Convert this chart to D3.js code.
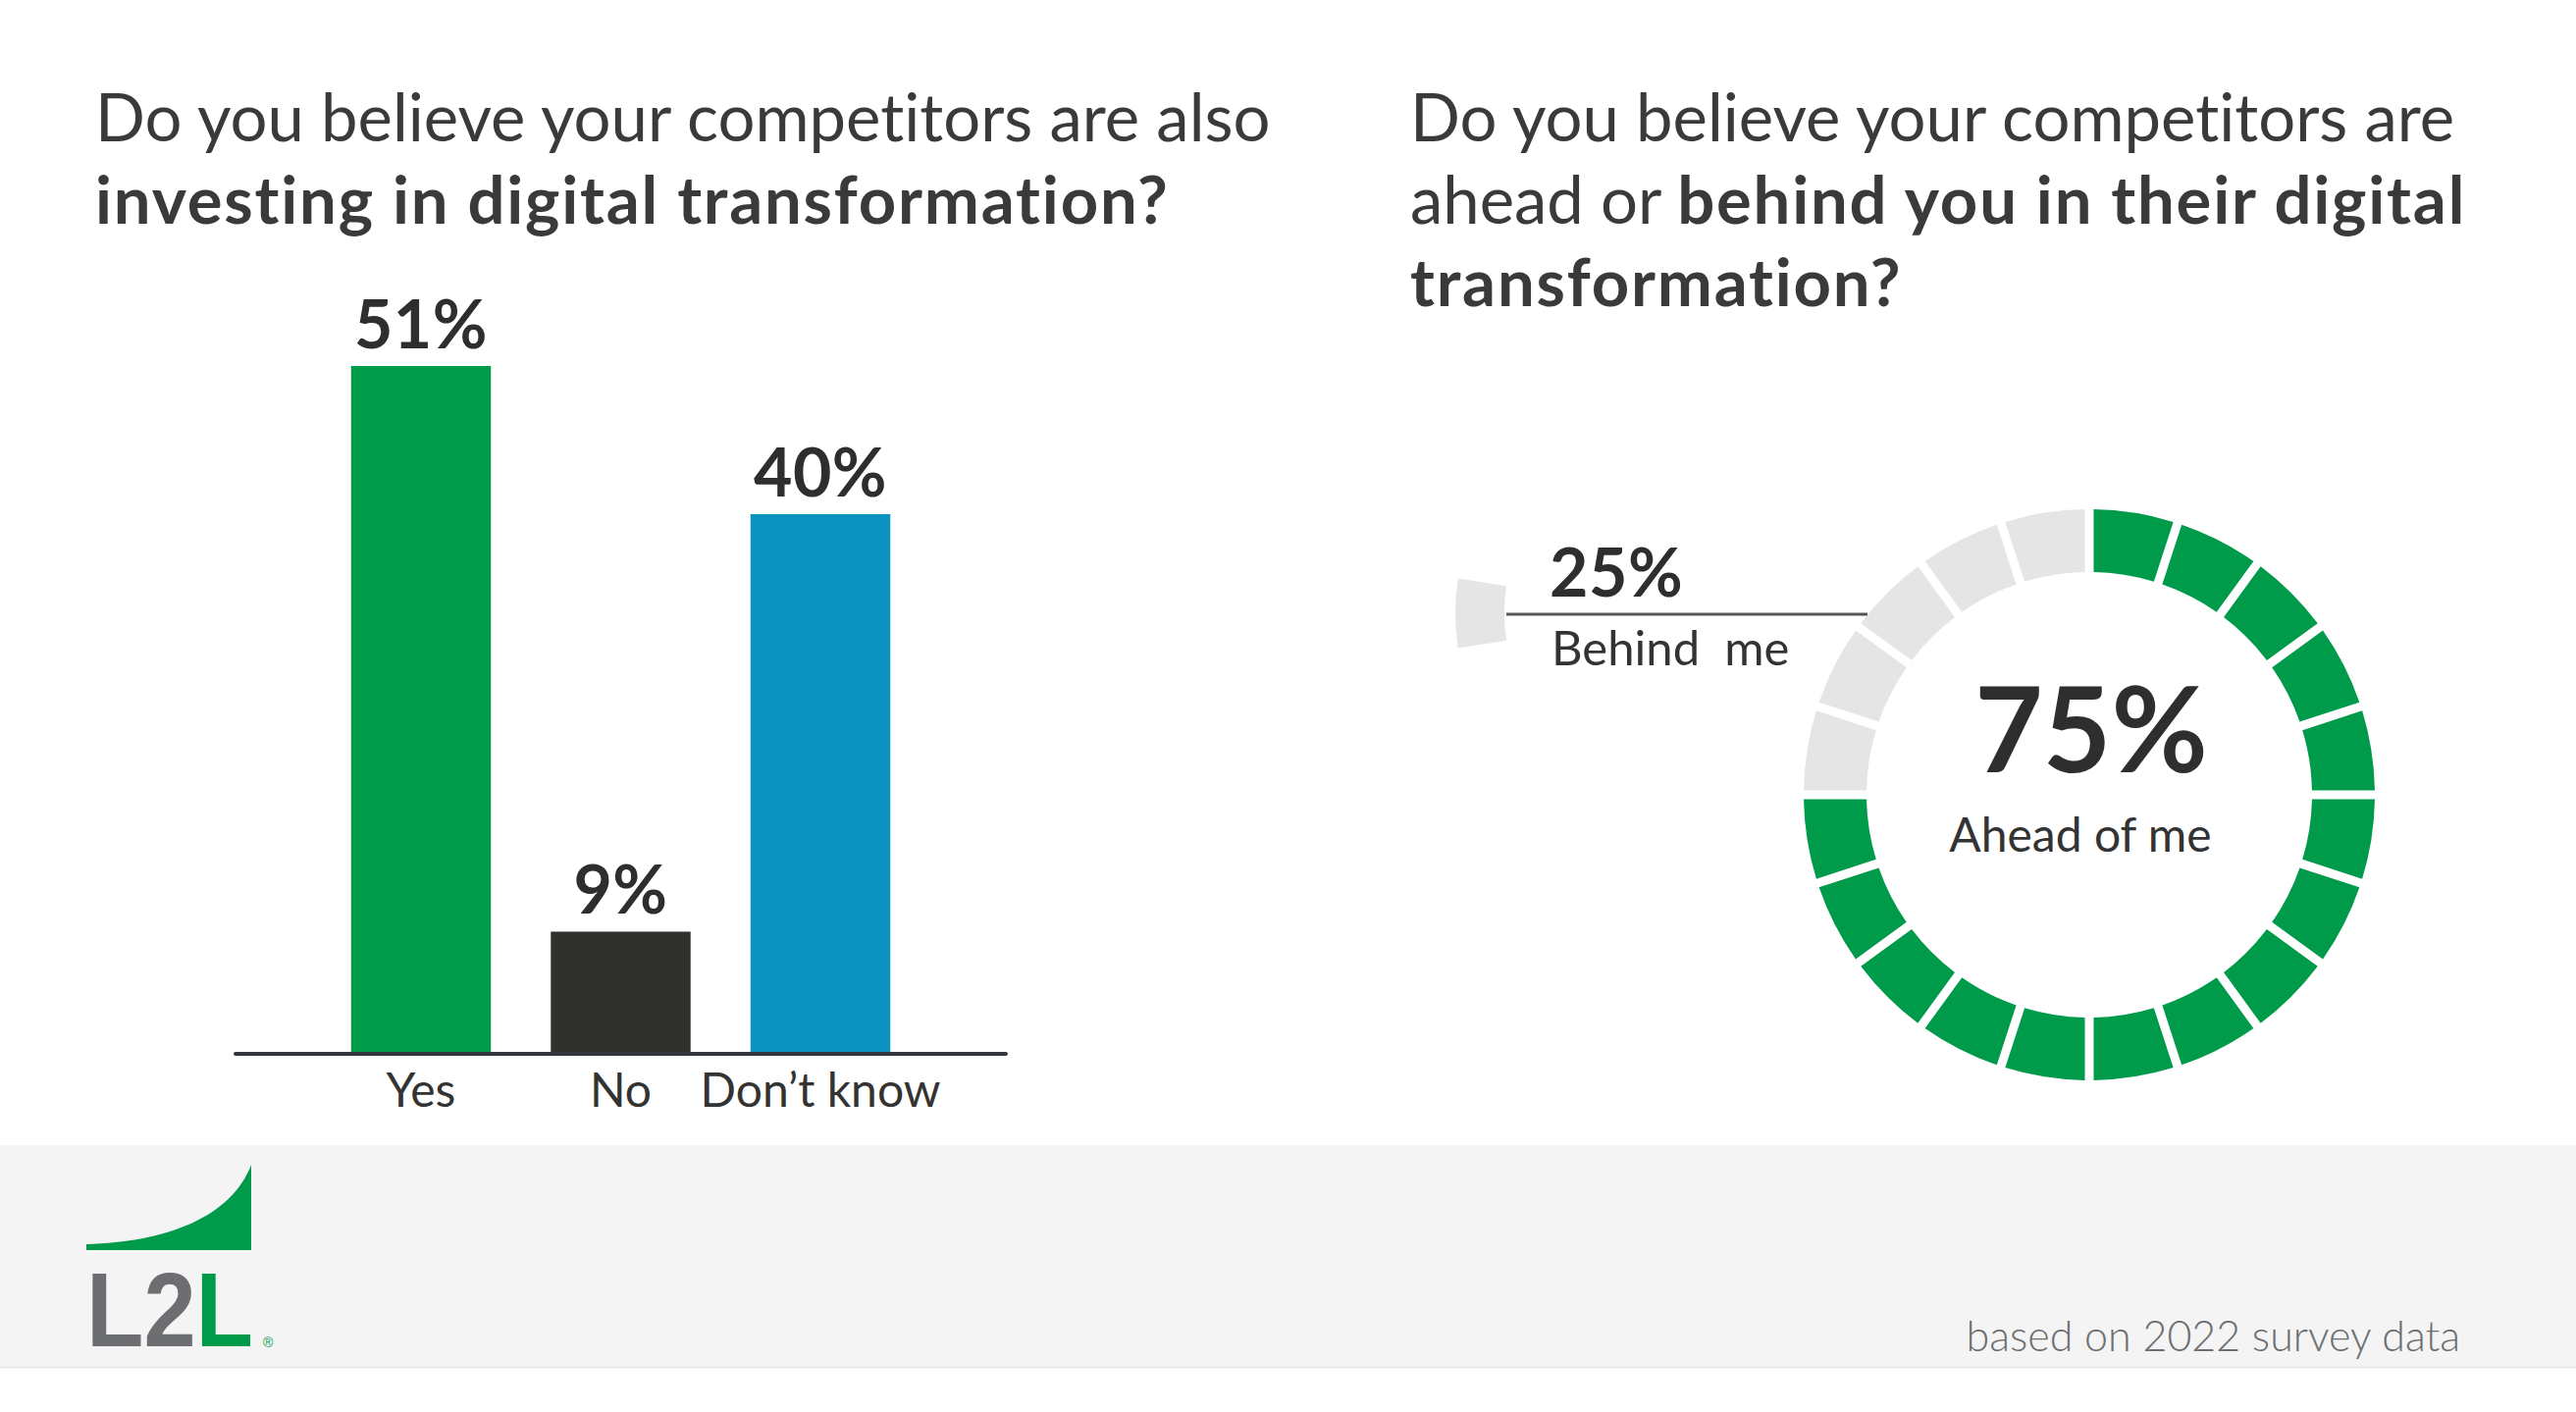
<!DOCTYPE html>
<html>
<head>
<meta charset="utf-8">
<script src="https://cdn.jsdelivr.net/npm/d3@7"></script>
<style>
  body { margin: 0; background: #fff; }
  svg text { font-family: Lato, "Open Sans", sans-serif; font-variant-ligatures: none; }
</style>
</head>
<body>
<svg id="chart" width="2625" height="1439"></svg>
<script>
// ---- data ----
const barCategories = ["Yes", "No", "Don’t know"];
const barValues = [51, 9, 40];
const barColors = ["#009b4a", "#30302d", "#0a93bf"];

const ringLabels = ["Ahead of me", "Behind  me"];
const ringValues = [75, 25];
const ringColors = ["#009b4a", "#e5e5e5"];
const SEGMENTS = 20; // each ring block is 5%

const leftTitle = [
  [{t: "Do you believe your competitors are also", b: false}],
  [{t: "investing in digital transformation?", b: true}]
];
const rightTitle = [
  [{t: "Do you believe your competitors are", b: false}],
  [{t: "ahead or ", b: false}, {t: "behind you in their digital", b: true}],
  [{t: "transformation?", b: true}]
];
const footNote = "based on 2022 survey data";

const svg = d3.select("#chart");

// ---- titles ----
function drawTitle(lines, x, y0, lh) {
  const t = svg.append("text").attr("x", x).attr("y", y0)
    .attr("font-size", 67).attr("fill", "#3a3a3a");
  lines.forEach((line, i) => {
    line.forEach((part, j) => {
      const ts = t.append("tspan").text(part.t)
        .attr("font-weight", part.b ? 700 : 400)
        .attr("letter-spacing", part.b ? 1.8 : 0);
      if (j === 0) ts.attr("x", x).attr("y", y0 + i * lh);
    });
  });
}
drawTitle(leftTitle, 97, 144, 84);
drawTitle(rightTitle, 1437, 144, 84);

// ---- bar chart ----
const x = d3.scaleBand()
    .domain(barCategories)
    .range([256, 1009])
    .paddingInner(0.3)
    .paddingOuter(0.5);

const y = d3.scaleLinear()
    .domain([0, d3.max(barValues)])
    .range([1073, 373]);

const bars = svg.append("g");
bars.selectAll("rect")
  .data(barValues)
  .enter().append("rect")
    .attr("x", (d, i) => x(barCategories[i]))
    .attr("y", d => y(d))
    .attr("width", x.bandwidth())
    .attr("height", d => y(0) - y(d))
    .attr("fill", (d, i) => barColors[i]);

bars.selectAll(".val")
  .data(barValues)
  .enter().append("text")
    .attr("class", "val")
    .attr("x", (d, i) => x(barCategories[i]) + x.bandwidth() / 2)
    .attr("y", d => y(d) - 18)
    .attr("text-anchor", "middle")
    .attr("font-size", 68)
    .attr("font-weight", 700)
    .attr("letter-spacing", 0.5)
    .attr("fill", "#2e2e2e")
    .text(d => d + "%");

// baseline
svg.append("line")
    .attr("x1", 240).attr("x2", 1025)
    .attr("y1", y(0) + 1).attr("y2", y(0) + 1)
    .attr("stroke", "#34373d")
    .attr("stroke-width", 4)
    .attr("stroke-linecap", "round");

// category labels
const xAxis = svg.append("g")
    .attr("transform", "translate(0," + (y(0) + 1) + ")")
    .call(d3.axisBottom(x).tickSize(0).tickPadding(0));
xAxis.select(".domain").remove();
xAxis.selectAll("text")
    .attr("dy", null)
    .attr("y", 54)
    .attr("font-size", 48)
    .attr("fill", "#333")
    .style("font-family", "Lato, 'Open Sans', sans-serif");

// ---- segmented ring ----
const cx = 2129, cy = 810, rOuter = 291, rInner = 227;
const ring = svg.append("g").attr("transform", "translate(" + cx + "," + cy + ")");

const pie = d3.pie().sort(null).value(1);
const arc = d3.arc()
    .innerRadius(rInner)
    .outerRadius(rOuter)
    .padRadius(rOuter)
    .padAngle(9 / rOuter);

const segs = d3.range(SEGMENTS);
ring.selectAll("path")
  .data(pie(segs))
  .enter().append("path")
    .attr("d", arc)
    .attr("fill", d => (d.index * 100 / SEGMENTS) < ringValues[0] ? ringColors[0] : ringColors[1]);

// loose block beside the "behind" label
const step = 2 * Math.PI / SEGMENTS;
const looseArc = d3.arc()
    .innerRadius(rInner * 0.78)
    .outerRadius(rOuter * 0.78);
svg.append("path")
    .attr("transform", "translate(1710,625)")
    .attr("d", looseArc({startAngle: -Math.PI / 2 - step / 2, endAngle: -Math.PI / 2 + step / 2}))
    .attr("fill", ringColors[1]);

// center label
svg.append("text")
    .attr("x", cx + 2).attr("y", 787)
    .attr("text-anchor", "middle")
    .attr("font-size", 120)
    .attr("font-weight", 700)
    .attr("fill", "#2e2e2e")
    .text(ringValues[0] + "%");
svg.append("text")
    .attr("x", 2120).attr("y", 868)
    .attr("text-anchor", "middle")
    .attr("font-size", 48)
    .attr("fill", "#333")
    .text(ringLabels[0]);

// behind callout
svg.append("line")
    .attr("x1", 1535).attr("x2", 1903)
    .attr("y1", 626).attr("y2", 626)
    .attr("stroke", "#555")
    .attr("stroke-width", 3);
svg.append("text")
    .attr("x", 1579).attr("y", 608)
    .attr("font-size", 68)
    .attr("font-weight", 700)
    .attr("letter-spacing", 0.5)
    .attr("fill", "#2e2e2e")
    .text(ringValues[1] + "%");
svg.append("text")
    .attr("x", 1581).attr("y", 678)
    .attr("font-size", 49)
    .attr("fill", "#333")
    .style("white-space", "pre")
    .text(ringLabels[1]);

// ---- footer ----
svg.append("rect")
    .attr("x", 0).attr("y", 1167)
    .attr("width", 2625).attr("height", 226)
    .attr("fill", "#f4f4f4");
svg.append("line")
    .attr("x1", 0).attr("x2", 2625)
    .attr("y1", 1393.5).attr("y2", 1393.5)
    .attr("stroke", "#e8e8e8").attr("stroke-width", 2);

// logo: swoosh + "L2L" (last L green via hard-stop gradient)
svg.append("path")
    .attr("d", "M88,1268 C170,1266 236,1240 256,1187 L256,1274 L88,1274 Z")
    .attr("fill", "#009b4a");
const grad = svg.append("defs").append("linearGradient")
    .attr("id", "logoFill")
    .attr("gradientUnits", "userSpaceOnUse")
    .attr("x1", 0).attr("x2", 200).attr("y1", 0).attr("y2", 0);
grad.append("stop").attr("offset", 0.61).attr("stop-color", "#6d6e71");
grad.append("stop").attr("offset", 0.61).attr("stop-color", "#009b4a");
svg.append("text")
    .attr("transform", "translate(88,1372) scale(0.894,1)")
    .attr("font-size", 107)
    .attr("font-weight", 700)
    .attr("fill", "url(#logoFill)")
    .style("font-family", "'Liberation Sans', Arial, sans-serif")
    .text("L2L");
svg.append("text")
    .attr("x", 268).attr("y", 1373)
    .attr("font-size", 14)
    .attr("fill", "#009b4a")
    .style("font-family", "'Liberation Sans', Arial, sans-serif")
    .text("®");

svg.append("text")
    .attr("x", 2507).attr("y", 1377)
    .attr("text-anchor", "end")
    .attr("font-size", 43)
    .attr("font-weight", 300)
    .attr("fill", "#6d6e71")
    .text(footNote);
</script>
</body>
</html>
